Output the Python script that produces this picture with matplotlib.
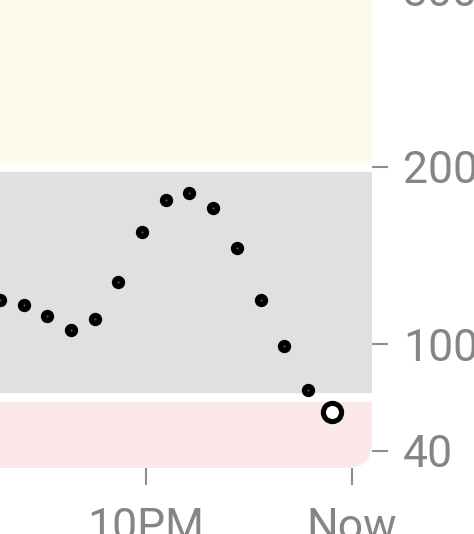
import matplotlib
matplotlib.use("Agg")
import matplotlib.pyplot as plt
from matplotlib.patches import FancyBboxPatch
import numpy as np

# ---- data ----
minutes = [-74.3, -69.3, -64.3, -59.3, -54.3, -49.3, -44.3, -39.3, -34.3,
           -29.3, -24.3, -19.3, -14.3, -9.3]
glucose = [125, 122, 116, 108, 114, 135, 163, 181, 185, 177, 154, 125, 99, 74]
current_minute = -4.3
current_value = 62
x_tick_pos = [-43.5, 0]
x_tick_labels = ["10PM", "Now"]
y_ticks = [40, 100, 200, 300]
low_limit = 70
high_limit = 200

W, H = 474, 534
dpi = 100
fig = plt.figure(figsize=(W / dpi, H / dpi), dpi=dpi)
fig.patch.set_facecolor("white")

# axes placement in pixels (part of chart lies outside the visible crop)
ax_left_px, ax_right_px = 0, 372
ax_bottom_px = 468
ymin, ymax = 30.25, 320
px_per_unit = 1.775
ax_top_px = ax_bottom_px - (ymax - ymin) * px_per_unit  # negative -> above figure
ax = fig.add_axes([ax_left_px / W, (H - ax_bottom_px) / H,
                   (ax_right_px - ax_left_px) / W, (ax_bottom_px - ax_top_px) / H])

px_per_min = 4.74
xmax = (ax_right_px - 352) / px_per_min
xmin = (ax_left_px - 352) / px_per_min
ax.set_xlim(xmin, xmax)
ax.set_ylim(ymin, ymax)

yellow = "#fdf9ec"
gray = "#e0e0e0"
pink = "#fce8e9"

# high band
ax.axhspan(high_limit, ymax, color=yellow, lw=0, zorder=0)
# low band with rounded bottom-right corner
aspect = px_per_min / px_per_unit
r_min = 25 / px_per_min
pink_patch = FancyBboxPatch((xmin - 20, ymin), (xmax - xmin + 20), 80,
                            boxstyle=f"round,pad=0,rounding_size={r_min}",
                            mutation_aspect=aspect, fc=pink, ec="none", lw=0, zorder=0)
ax.add_patch(pink_patch)
# target band
ax.axhspan(low_limit, high_limit, color=gray, lw=0, zorder=0.5)
# white separators
for lim in (low_limit, high_limit):
    ax.axhline(lim, color="white", lw=6.2, zorder=1)

# points
ax.plot(minutes, glucose, "o", color="black", ms=9.6, mew=0, zorder=3)
ax.plot(minutes, glucose, "o", color="#5a5a5a", ms=1.5, mew=0, zorder=4)
ax.plot([current_minute], [current_value], "o", mfc="white", mec="black",
        ms=13.1, mew=3.7, zorder=5)

# axes styling
for s in ax.spines.values():
    s.set_visible(False)
ax.set_facecolor("none")
ax.yaxis.tick_right()
ax.set_yticks(y_ticks)
ax.set_yticklabels([str(v) for v in y_ticks])
ax.set_xticks(x_tick_pos)
ax.set_xticklabels(x_tick_labels)
label_color = "#858585"
ax.tick_params(axis="y", which="both", direction="out", length=11.5, width=1.5,
               color="#8e8e8e", pad=11, labelsize=32, labelcolor=label_color)
ax.tick_params(axis="x", which="both", direction="out", length=12, width=1.5,
               color="#8e8e8e", pad=16, labelsize=32, labelcolor=label_color)
for lab in ax.get_xticklabels() + ax.get_yticklabels():
    lab.set_fontfamily(["Roboto", "DejaVu Sans"])

fig.savefig("out.png", dpi=dpi, facecolor="white")
